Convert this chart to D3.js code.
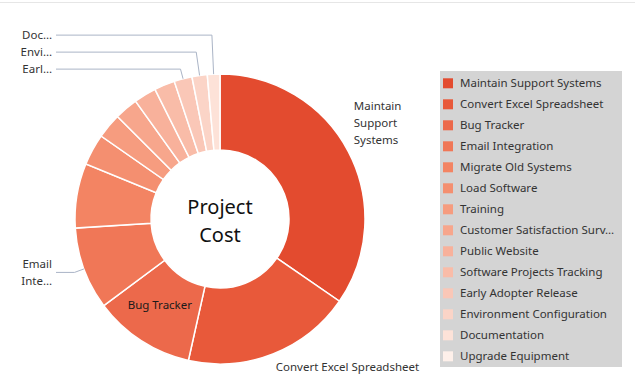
<!DOCTYPE html>
<html>
<head>
<meta charset="utf-8">
<script src="https://cdn.jsdelivr.net/npm/d3@7"></script>
<style>
  body { margin: 0; background: #fff; font-family: "Noto Sans", sans-serif; }
  svg text { font-family: "Noto Sans", sans-serif; }
</style>
</head>
<body>
<div id="chart"></div>
<script>
var svgWidth = 635;
var svgHeight = 390;

// project names and their cost share
var projects = ["Maintain Support Systems", "Convert Excel Spreadsheet", "Bug Tracker",
  "Email Integration", "Migrate Old Systems", "Load Software", "Training",
  "Customer Satisfaction Survey", "Public Website", "Software Projects Tracking",
  "Early Adopter Release", "Environment Configuration", "Documentation", "Upgrade Equipment"];
var costs = [34.6, 18.9, 11.3, 9.2, 7.2, 3.5, 2.8, 2.6, 2.5, 2.3, 2.0, 1.7, 1.4, 0];

// text shown in the legend (long names get cut)
var legendText = ["Maintain Support Systems", "Convert Excel Spreadsheet", "Bug Tracker",
  "Email Integration", "Migrate Old Systems", "Load Software", "Training",
  "Customer Satisfaction Surv\u2026", "Public Website", "Software Projects Tracking",
  "Early Adopter Release", "Environment Configuration", "Documentation", "Upgrade Equipment"];

// slice labels: lines of text, and where they go
var sliceLabels = [["Maintain", "Support", "Systems"], ["Convert Excel Spreadsheet"], ["Bug Tracker"],
  ["Email", "Inte\u2026"], [], [], [], [], [], [], ["Earl\u2026"], ["Envi\u2026"], ["Doc\u2026"], []];
var labelMode = ["outside", "outside", "inside", "outside", "none", "none", "none", "none",
  "none", "none", "outside", "outside", "outside", "none"];

var colors = ["#e34b2f", "#e8593a", "#ec694b", "#f07757", "#f38463", "#f48f70", "#f69c7f",
  "#f7a68c", "#f8b19b", "#f9bca8", "#fac7b7", "#fbd4c7", "#fde2d8", "#fef0ea"];

var cx = 220, cy = 219;
var outerR = 145, innerR = 69;
var lineH = 17;
var fontSize = 11.5;

var svg = d3.select("#chart")
  .append("svg")
  .attr("width", svgWidth)
  .attr("height", svgHeight);

// thin top border
svg.append("line")
  .attr("x1", 0).attr("x2", svgWidth)
  .attr("y1", 2.5).attr("y2", 2.5)
  .attr("stroke", "#e6e6e6")
  .attr("stroke-width", 1);

var pieGroup = svg.append("g")
  .attr("transform", `translate(${cx}, ${cy})`);

var pie = d3.pie().sort(null).value(d => d);
var arcs = pie(costs);

var arc = d3.arc().innerRadius(innerR).outerRadius(outerR);

pieGroup.selectAll("path")
  .data(arcs.filter(d => d.value > 0))
  .enter()
  .append("path")
  .attr("d", arc)
  .attr("fill", d => colors[d.index])
  .attr("stroke", "#fff")
  .attr("stroke-width", 1.5);

// center text
pieGroup.append("text")
  .attr("text-anchor", "middle")
  .attr("font-size", 20)
  .attr("fill", "#111")
  .selectAll("tspan")
  .data(["Project", "Cost"])
  .enter()
  .append("tspan")
  .attr("x", 0)
  .attr("y", (d, i) => -12 + i * 28 + 7)
  .text(d => d);

function midAngle(d) { return (d.startAngle + d.endAngle) / 2; }

// inside labels
arcs.forEach(function (d, i) {
  if (labelMode[i] !== "inside") return;
  var c = d3.arc().innerRadius(innerR).outerRadius(outerR).centroid(d);
  pieGroup.append("text")
    .attr("x", c[0] - 2)
    .attr("y", c[1])
    .attr("text-anchor", "middle")
    .attr("font-size", fontSize)
    .attr("fill", "#1a1a1a")
    .text(sliceLabels[i][0]);
});

// outside labels on the right side: placed against the ring, no leader
arcs.forEach(function (d, i) {
  if (labelMode[i] !== "outside") return;
  var a = midAngle(d);
  if (Math.sin(a) <= 0) return;
  var px = Math.sin(a) * 150, py = -Math.cos(a) * 150;
  var lines = sliceLabels[i];
  var top = Math.cos(a) > 0 ? py - lines.length * lineH : py;
  var t = pieGroup.append("text")
    .attr("font-size", fontSize)
    .attr("fill", "#333");
  lines.forEach(function (s, k) {
    t.append("tspan")
      .attr("x", px + 1)
      .attr("y", top + k * lineH + 12)
      .text(s);
  });
});

// outside labels on the left side: stacked, with leader lines
var leftLabels = [];
arcs.forEach(function (d, i) {
  if (labelMode[i] !== "outside") return;
  var a = midAngle(d);
  if (Math.sin(a) > 0) return;
  leftLabels.push({ i: i, a: a, y: -Math.cos(a) * 155, lines: sliceLabels[i] });
});
leftLabels.sort((p, q) => q.y - p.y);
for (var k = 1; k < leftLabels.length; k++) {
  var prev = leftLabels[k - 1], cur = leftLabels[k];
  var minGap = (prev.lines.length + cur.lines.length) * lineH / 2;
  if (prev.y - cur.y < minGap) cur.y = prev.y - minGap;
}

var textRight = 52 - cx;
var lineEnd = 56 - cx;

leftLabels.forEach(function (L) {
  var sx = Math.sin(L.a), sy = -Math.cos(L.a);
  var ax = sx * outerR, ay = sy * outerR;
  var r = Math.abs(sy) > 0.05 ? L.y / sy : outerR + 10;
  if (r < outerR + 4) r = outerR + 4;
  var bx = sx * r;
  pieGroup.append("polyline")
    .attr("points", `${ax},${ay} ${bx},${L.y} ${lineEnd},${L.y}`)
    .attr("fill", "none")
    .attr("stroke", "#aab4c6")
    .attr("stroke-width", 1);

  var t = pieGroup.append("text")
    .attr("font-size", fontSize)
    .attr("fill", "#333")
    .attr("text-anchor", "end");
  var n = L.lines.length;
  L.lines.forEach(function (s, j) {
    t.append("tspan")
      .attr("x", textRight)
      .attr("y", L.y + (j - (n - 1) / 2) * lineH + 4)
      .text(s);
  });
});

// legend
var legend = svg.append("g").attr("transform", "translate(440, 71)");
legend.append("rect")
  .attr("width", 182)
  .attr("height", 296)
  .attr("fill", "#d4d4d4");

var items = legend.selectAll("g.item")
  .data(legendText)
  .enter()
  .append("g")
  .attr("class", "item")
  .attr("transform", (d, i) => `translate(0, ${12.3 + i * 21})`);

items.append("rect")
  .attr("x", 3)
  .attr("y", -5)
  .attr("width", 10)
  .attr("height", 10)
  .attr("fill", (d, i) => colors[i]);

items.append("text")
  .attr("x", 20)
  .attr("y", 4)
  .attr("font-size", fontSize)
  .attr("fill", "#333")
  .text(d => d);
</script>
</body>
</html>
